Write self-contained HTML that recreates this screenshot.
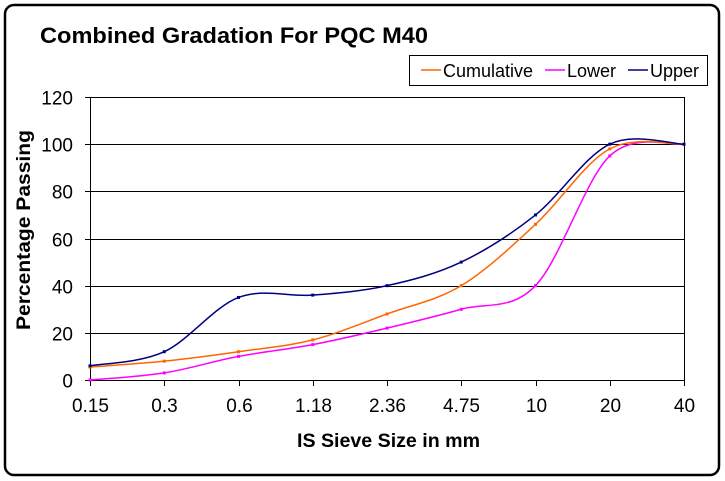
<!DOCTYPE html>
<html><head><style>
html,body{margin:0;padding:0;background:#fff;}
svg{display:block;font-family:"Liberation Sans",Arial,sans-serif;}
</style></head><body>
<svg id="s" width="725" height="481" viewBox="0 0 725 481">
<rect x="5" y="5" width="714" height="470" rx="9" ry="9" fill="#fff" stroke="#000" stroke-width="2.5"/>
<text x="40" y="43" font-size="22" font-weight="bold" textLength="388" lengthAdjust="spacingAndGlyphs">Combined Gradation For PQC M40</text>
<g id="grid" stroke="#000" stroke-width="1"></g>
<rect x="90.5" y="97.5" width="594" height="283" fill="none" stroke="#000"/>
<g id="ticks" stroke="#000"></g>
<g id="lab" font-size="19" fill="#000"></g>
<text x="297" y="447" font-size="19" font-weight="bold" textLength="183" lengthAdjust="spacingAndGlyphs">IS Sieve Size in mm</text>
<text transform="translate(30,330) rotate(-90)" font-size="19" font-weight="bold" textLength="200" lengthAdjust="spacingAndGlyphs">Percentage Passing</text>
<rect x="409.5" y="55.5" width="298" height="30" fill="#fff" stroke="#000"/>
<line x1="421" y1="70" x2="441" y2="70" stroke="#FF6600" stroke-width="1.5"/>
<text x="443" y="77" font-size="18" textLength="90" lengthAdjust="spacingAndGlyphs">Cumulative</text>
<line x1="545" y1="70" x2="565" y2="70" stroke="#FF00FF" stroke-width="1.5"/>
<text x="567" y="77" font-size="18">Lower</text>
<line x1="628" y1="70" x2="648" y2="70" stroke="#000080" stroke-width="1.5"/>
<text x="650" y="77" font-size="18">Upper</text>
<g id="series"></g>
</svg>
<script>
var ns="http://www.w3.org/2000/svg";
function el(p,t,a,txt){var e=document.createElementNS(ns,t);for(var k in a)e.setAttribute(k,a[k]);if(txt!=null)e.textContent=txt;document.getElementById(p).appendChild(e);return e;}
var x0=90,dx=74.25,y0=380,dy=283/120;
for(var v=0;v<=120;v+=20){var y=Math.round(y0-v*dy)+0.5;
 if(v>0&&v<120)el("grid","line",{x1:90,y1:y,x2:684,y2:y});
 el("ticks","line",{x1:85,y1:y,x2:90,y2:y});
 el("lab","text",{x:73,y:y+7,"text-anchor":"end"},v);}
var cats=["0.15","0.3","0.6","1.18","2.36","4.75","10","20","40"];
for(var i=0;i<9;i++){var x=Math.round(x0+i*dx)+0.5;
 el("ticks","line",{x1:x,y1:380,x2:x,y2:386});
 el("lab","text",{x:x,y:412,"text-anchor":"middle"},cats[i]);}
var S=[[ "#FF00FF",[0,3,10,15,22,30,40,95,100]],["#FF6600",[5.5,8,12,17,28,40,66,98,100]],["#000080",[6,12,35,36,40,50,70,100,100]]];
S.forEach(function(s){var P=s[1].map(function(v,i){return [x0+i*dx,y0-v*dy];});
 var d="M"+P[0][0]+","+P[0][1];var t=1/6*1.0;
 for(var i=0;i<P.length-1;i++){var p0=P[i-1]||P[i],p1=P[i],p2=P[i+1],p3=P[i+2]||P[i+1];
  d+=" C"+(p1[0]+(p2[0]-p0[0])*t)+","+(p1[1]+(p2[1]-p0[1])*t)+" "+(p2[0]-(p3[0]-p1[0])*t)+","+(p2[1]-(p3[1]-p1[1])*t)+" "+p2[0]+","+p2[1];}
 el("series","path",{d:d,fill:"none",stroke:s[0],"stroke-width":1.5});
 P.forEach(function(p){el("series","rect",{x:p[0]-1.5,y:p[1]-1.5,width:3,height:3,fill:s[0]});});});
</script>
</body></html>
